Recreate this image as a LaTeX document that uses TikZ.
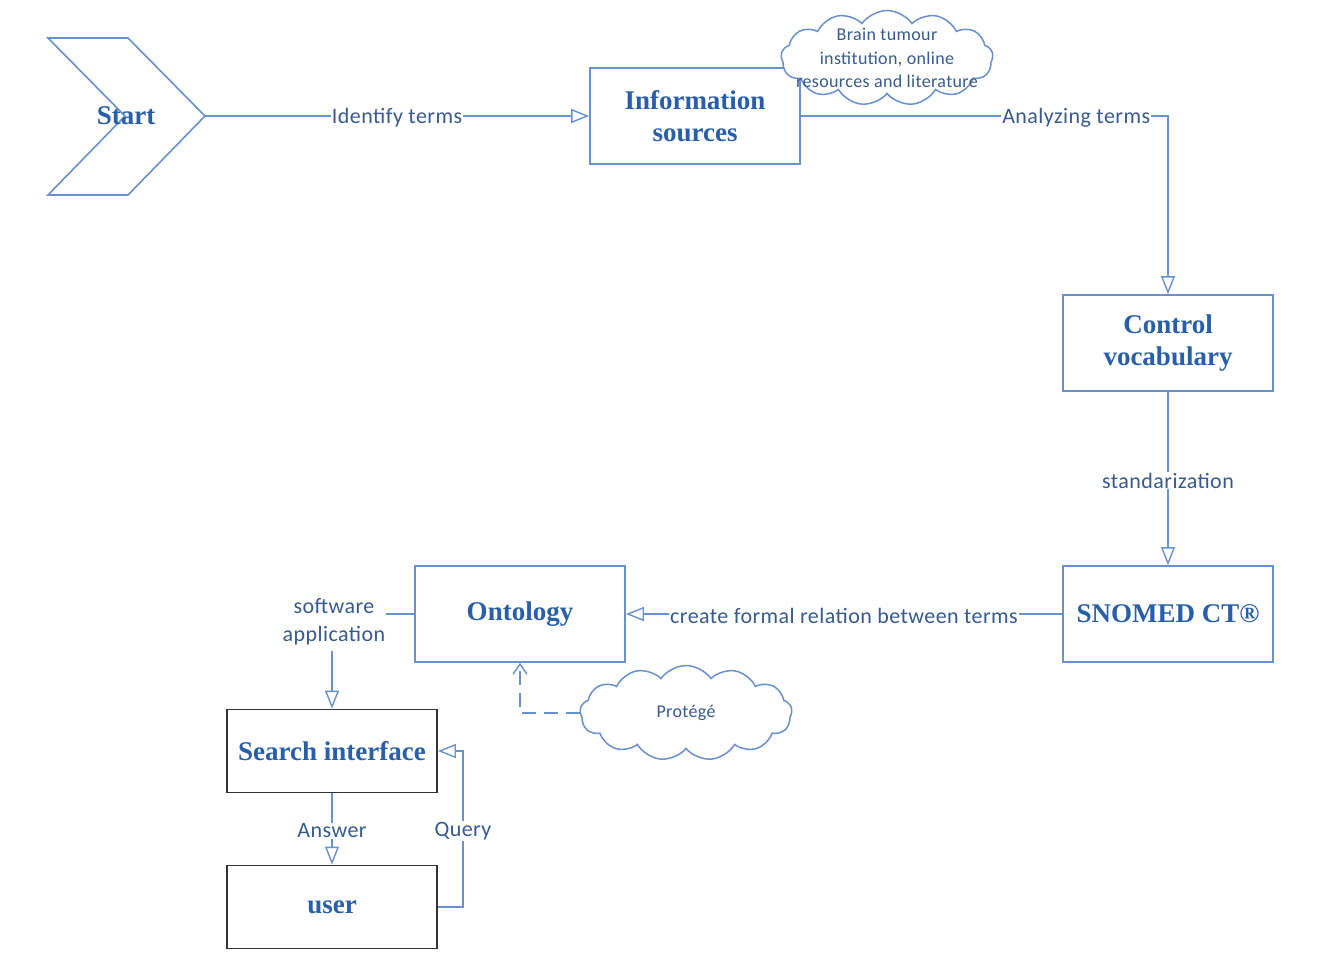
\documentclass[tikz,border=0pt]{standalone}
\usepackage{fontspec}
\setmainfont{Liberation Serif}
\newfontfamily\lblfont[LetterSpace=2]{Carlito}
\usetikzlibrary{shapes.symbols,arrows.meta}
\definecolor{lineblue}{RGB}{105,145,205}
\definecolor{headblue}{RGB}{40,95,170}
\definecolor{lblblue}{RGB}{55,90,145}
\tikzset{
  box/.style={draw=lineblue,line width=1.8pt,minimum width=210pt,minimum height=96pt,align=center,
    font=\fontsize{27}{32}\selectfont\bfseries,text=headblue},
  blackbox/.style={box,draw=black!80,minimum height=83pt},
  lbl/.style={fill=white,font=\lblfont\fontsize{22}{28}\selectfont,text=lblblue,inner sep=1pt,align=center,yshift=-2pt},
  conn/.style={draw=lineblue,line width=1.5pt},
  arr/.style={conn,-{Triangle[open,length=18pt,width=14pt,line width=1.4pt]}},
  barb/.style={conn,-{Straight Barb[length=10pt,width=14pt,line width=1.4pt]}},
  cloudy/.style={cloud,draw=lineblue,fill=white,line width=1.5pt,cloud puffs=13,cloud puff arc=110,
    minimum width=212pt,minimum height=95pt,inner sep=0pt},
  cloudtxt/.style={align=center,text=lblblue,font=\lblfont\fontsize{18}{23.5}\selectfont}
}
\begin{document}
\begin{tikzpicture}[x=1pt,y=-1pt]
\useasboundingbox[fill=white] (0,0) rectangle (1318,962);
% Start chevron
\draw[conn,line width=1.6pt] (48,38) -- (128,38) -- (205,116) -- (128,195) -- (48,195) -- (125,116) -- cycle;
\node[text=headblue,font=\fontsize{27}{32}\selectfont\bfseries] (start) at (126,116) {Start};
\coordinate (starttip) at (205,116);
% boxes
\node[box] (info) at (695,116) {Information\\sources};
\node[box] (ctrl) at (1168,343) {Control\\vocabulary};
\node[box] (snomed) at (1168,614) {SNOMED CT®};
\node[box] (onto) at (520,614) {Ontology};
\node[blackbox] (search) at (332,751) {Search interface};
\node[blackbox] (user) at (332,907) {user};
% clouds
\node[cloudy] (src) at (887,58) {};
\node[cloudtxt] (srctext) at (src.center) {Brain tumour\\institution, online\\resources and literature};
\node[cloudy] (prot) at (686,713) {};
\node[cloudtxt] (prottext) at (prot.center) {Protégé};
% connectors
\draw[arr] (starttip) -- node[lbl,pos=0.5]{Identify terms} (info.west);
\draw[arr] (info.east) -| node[lbl,pos=0.375]{Analyzing terms} (ctrl.north);
\draw[arr] (ctrl.south) -- node[lbl,pos=0.5]{standarization} (snomed.north);
\draw[arr] (snomed.west) -- node[lbl,pos=0.5]{create formal relation between terms} (onto.west -| onto.east);
\node[lbl] (sw) at (334,620) {software\\application};
\draw[conn] (onto.west) -- (sw.east |- onto.west);
\draw[arr] (sw.south -| search.north) ++(0,4) -- (search.north);
\draw[arr] (search.south) -- node[lbl,pos=0.5]{Answer} (user.north);
\coordinate (qx) at (463,0);
\draw[arr] (user.east) -- (user.east -| qx) -- node[lbl,pos=0.5]{Query} (search.east -| qx) -- (search.east);
\draw[barb,dashed,dash pattern=on 14pt off 8pt] (prot.west) -| (onto.south);
\end{tikzpicture}
\end{document}
